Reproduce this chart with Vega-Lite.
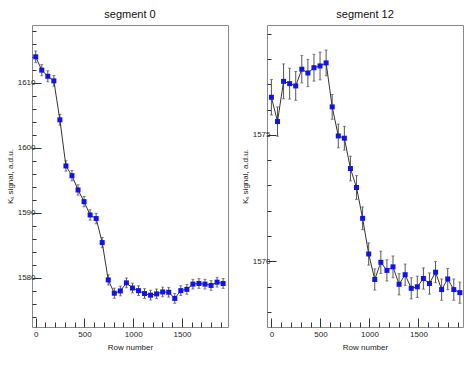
{
  "$schema": "https://vega.github.io/schema/vega-lite/v6.json",
  "padding": {"left": 5, "top": 8, "right": 12, "bottom": 2},
  "background": "white",
  "config": {
    "font": "Liberation Sans",
    "view": {"stroke": "#888", "strokeWidth": 1},
    "axis": {"domain": false, "grid": false, "tickColor": "#333", "tickWidth": 1, "labelFontSize": 8, "titleFontSize": 8, "labelColor": "#222", "titleColor": "#222", "titleFontWeight": "normal", "labelOverlap": false, "labelFlush": false, "format": "d"},
    "title": {"fontSize": 11, "fontWeight": "normal", "color": "#111", "offset": 5},
    "concat": {"spacing": 11}
  },
  "datasets": {
    "seg0": [
      {"row": 0, "signal": 1614.0, "err": 0.9},
      {"row": 62, "signal": 1611.95, "err": 0.85},
      {"row": 124, "signal": 1611.0, "err": 0.85},
      {"row": 186, "signal": 1610.3, "err": 0.82},
      {"row": 248, "signal": 1604.3, "err": 0.82},
      {"row": 310, "signal": 1597.2, "err": 0.8},
      {"row": 372, "signal": 1595.7, "err": 0.8},
      {"row": 434, "signal": 1593.5, "err": 0.8},
      {"row": 496, "signal": 1591.7, "err": 0.8},
      {"row": 558, "signal": 1589.65, "err": 0.8},
      {"row": 620, "signal": 1589.1, "err": 0.8},
      {"row": 682, "signal": 1585.4, "err": 0.78},
      {"row": 744, "signal": 1579.65, "err": 0.78},
      {"row": 806, "signal": 1577.6, "err": 0.78},
      {"row": 868, "signal": 1577.95, "err": 0.75},
      {"row": 930, "signal": 1579.2, "err": 0.75},
      {"row": 992, "signal": 1578.4, "err": 0.75},
      {"row": 1054, "signal": 1578.0, "err": 0.75},
      {"row": 1116, "signal": 1577.55, "err": 0.75},
      {"row": 1178, "signal": 1577.3, "err": 0.75},
      {"row": 1240, "signal": 1577.5, "err": 0.75},
      {"row": 1302, "signal": 1577.8, "err": 0.75},
      {"row": 1364, "signal": 1577.75, "err": 0.75},
      {"row": 1426, "signal": 1576.8, "err": 0.75},
      {"row": 1488, "signal": 1578.0, "err": 0.75},
      {"row": 1550, "signal": 1578.2, "err": 0.75},
      {"row": 1612, "signal": 1579.0, "err": 0.75},
      {"row": 1674, "signal": 1579.1, "err": 0.75},
      {"row": 1736, "signal": 1579.0, "err": 0.75},
      {"row": 1798, "signal": 1578.8, "err": 0.75},
      {"row": 1860, "signal": 1579.3, "err": 0.75},
      {"row": 1922, "signal": 1579.1, "err": 0.75}
    ],
    "seg12": [
      {"row": 0, "signal": 1576.49, "err": 0.7},
      {"row": 62, "signal": 1575.53, "err": 0.58},
      {"row": 124, "signal": 1577.12, "err": 0.69},
      {"row": 186, "signal": 1577.03, "err": 0.61},
      {"row": 248, "signal": 1576.94, "err": 0.57},
      {"row": 310, "signal": 1577.6, "err": 0.54},
      {"row": 372, "signal": 1577.45, "err": 0.54},
      {"row": 434, "signal": 1577.66, "err": 0.53},
      {"row": 496, "signal": 1577.73, "err": 0.55},
      {"row": 558, "signal": 1577.85, "err": 0.51},
      {"row": 620, "signal": 1576.11, "err": 0.49},
      {"row": 682, "signal": 1574.96, "err": 0.47},
      {"row": 744, "signal": 1574.87, "err": 0.47},
      {"row": 806, "signal": 1573.67, "err": 0.49},
      {"row": 868, "signal": 1572.92, "err": 0.47},
      {"row": 930, "signal": 1571.7, "err": 0.45},
      {"row": 992, "signal": 1570.29, "err": 0.44},
      {"row": 1054, "signal": 1569.28, "err": 0.42},
      {"row": 1116, "signal": 1569.96, "err": 0.44},
      {"row": 1178, "signal": 1569.64, "err": 0.42},
      {"row": 1240, "signal": 1569.78, "err": 0.43},
      {"row": 1302, "signal": 1569.09, "err": 0.42},
      {"row": 1364, "signal": 1569.47, "err": 0.42},
      {"row": 1426, "signal": 1568.93, "err": 0.42},
      {"row": 1488, "signal": 1568.99, "err": 0.42},
      {"row": 1550, "signal": 1569.32, "err": 0.42},
      {"row": 1612, "signal": 1569.12, "err": 0.42},
      {"row": 1674, "signal": 1569.57, "err": 0.42},
      {"row": 1736, "signal": 1568.88, "err": 0.42},
      {"row": 1798, "signal": 1569.3, "err": 0.42},
      {"row": 1860, "signal": 1568.88, "err": 0.42},
      {"row": 1922, "signal": 1568.76, "err": 0.42}
    ]
  },
  "hconcat": [
    {
      "title": "segment 0",
      "width": 196,
      "height": 302,
      "data": {"name": "seg0"},
      "encoding": {
        "x": {"field": "row", "type": "quantitative", "scale": {"domain": [-38, 1972], "nice": false, "zero": false},
          "axis": {"title": "Row number", "values": [0,100,200,300,400,500,600,700,800,900,1000,1100,1200,1300,1400,1500,1600,1700,1800,1900],
            "labelExpr": "datum.value % 500 === 0 ? datum.label : ''",
            "tickSize": {"condition": {"test": "datum.value % 500 === 0", "value": -9}, "value": -5},
            "labelPadding": 12, "titlePadding": 1}},
        "y": {"field": "signal", "type": "quantitative", "scale": {"domain": [1572.4, 1618.9], "nice": false, "zero": false},
          "axis": {"title": "Kₛ signal, a.d.u.", "values": [1574,1576,1578,1580,1582,1584,1586,1588,1590,1592,1594,1596,1598,1600,1602,1604,1606,1608,1610,1612,1614,1616,1618],
            "labelExpr": "datum.value % 10 === 0 ? datum.label : ''",
            "tickSize": {"condition": {"test": "datum.value % 10 === 0", "value": -9}, "value": -4},
            "labelPadding": 6, "titlePadding": 3}}
      },
      "layer": [
        {"mark": {"type": "errorbar", "color": "#555", "ticks": {"size": 3, "color": "#555"}}, "encoding": {"yError": {"field": "err"}}},
        {"mark": {"type": "line", "color": "#333", "strokeWidth": 1}},
        {"mark": {"type": "square", "color": "#1212ee", "opacity": 1, "size": 25}}
      ]
    },
    {
      "title": "segment 12",
      "width": 196,
      "height": 302,
      "data": {"name": "seg12"},
      "encoding": {
        "x": {"field": "row", "type": "quantitative", "scale": {"domain": [-45, 1954], "nice": false, "zero": false},
          "axis": {"title": "Row number", "values": [0,100,200,300,400,500,600,700,800,900,1000,1100,1200,1300,1400,1500,1600,1700,1800,1900],
            "labelExpr": "datum.value % 500 === 0 ? datum.label : ''",
            "tickSize": {"condition": {"test": "datum.value % 500 === 0", "value": -9}, "value": -5},
            "labelPadding": 12, "titlePadding": 1}},
        "y": {"field": "signal", "type": "quantitative", "scale": {"domain": [1567.4, 1579.35], "nice": false, "zero": false},
          "axis": {"title": "Kₛ signal, a.d.u.", "values": [1568,1569,1570,1571,1572,1573,1574,1575,1576,1577,1578,1579],
            "labelExpr": "datum.value % 5 === 0 ? datum.label : ''",
            "tickSize": {"condition": {"test": "datum.value % 5 === 0", "value": -9}, "value": -4},
            "labelPadding": 6, "titlePadding": 3}}
      },
      "layer": [
        {"mark": {"type": "errorbar", "color": "#555", "ticks": {"size": 3, "color": "#555"}}, "encoding": {"yError": {"field": "err"}}},
        {"mark": {"type": "line", "color": "#333", "strokeWidth": 1}},
        {"mark": {"type": "square", "color": "#1212ee", "opacity": 1, "size": 25}}
      ]
    }
  ]
}
